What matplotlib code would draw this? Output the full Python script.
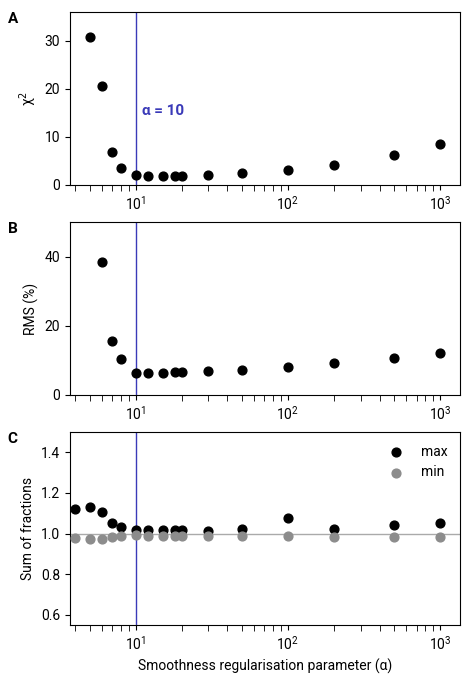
import matplotlib
matplotlib.use("Agg")
import matplotlib.pyplot as plt

xa = [5, 6, 7, 8, 10, 12, 15, 18, 20, 30, 50, 100, 200, 500, 1000]
chi2 = [30.8, 20.5, 6.8, 3.5, 2.0, 1.9, 1.9, 1.9, 1.9, 2.1, 2.5, 3.1, 4.2, 6.2, 8.5]
xb = [6, 7, 8, 10, 12, 15, 18, 20, 30, 50, 100, 200, 500, 1000]
rms = [38.5, 15.5, 10.5, 6.5, 6.5, 6.5, 6.6, 6.6, 6.8, 7.3, 8.1, 9.2, 10.7, 12.0]
xc = [4, 5, 6, 7, 8, 10, 12, 15, 18, 20, 30, 50, 100, 200, 500, 1000]
fmax = [1.12, 1.13, 1.105, 1.05, 1.03, 1.02, 1.02, 1.02, 1.02, 1.02, 1.015, 1.025, 1.075, 1.025, 1.04, 1.05]
fmin = [0.98, 0.972, 0.975, 0.985, 0.99, 0.995, 0.99, 0.99, 0.99, 0.99, 0.99, 0.99, 0.99, 0.985, 0.985, 0.985]

plt.rcParams['font.family'] = ['Roboto', 'DejaVu Sans']
fig = plt.figure(figsize=(4.74, 6.76), dpi=100)
L, W = 70/474, 390/474
axA = fig.add_axes([L, 1-185/676, W, 173/676])
axB = fig.add_axes([L, 1-395/676, W, 173/676])
axC = fig.add_axes([L, 1-625/676, W, 193/676])
blue = '#3a3ab8'
for ax in (axA, axB, axC):
    ax.set_xscale('log')
    ax.set_xlim(3.7, 1350)
    ax.axvline(10, color=blue, lw=1)
    ax.tick_params(labelsize=10)
    ax.tick_params(which='minor', length=4)

axA.scatter(xa, chi2, s=40, color='black', zorder=3)
axA.set_ylim(0, 36)
axA.set_yticks([0, 10, 20, 30])
axA.set_ylabel('χ$^2$', fontsize=10)
axA.text(11, 14.5, 'α = 10', color=blue, fontsize=11, fontweight='bold')

axB.scatter(xb, rms, s=40, color='black', zorder=3)
axB.set_ylim(0, 50)
axB.set_yticks([0, 20, 40])
axB.set_ylabel('RMS (%)', fontsize=10)

axC.axhline(1.0, color='#aaaaaa', lw=1)
axC.scatter(xc, fmax, s=40, color='black', zorder=3, label='max')
axC.scatter(xc, fmin, s=40, color='#8c8c8c', zorder=3, label='min')
axC.set_ylim(0.55, 1.5)
axC.set_yticks([0.6, 0.8, 1.0, 1.2, 1.4])
axC.set_ylabel('Sum of fractions', fontsize=10)
axC.set_xlabel('Smoothness regularisation parameter (α)', fontsize=10)
axC.legend(frameon=False, loc='upper right', fontsize=10, handletextpad=0.8)

for ax, lab in ((axA, 'A'), (axB, 'B'), (axC, 'C')):
    ax.text(-0.16, 1.0, lab, transform=ax.transAxes, fontsize=11, fontweight='bold', va='top')

fig.savefig('out.png', dpi=100)
